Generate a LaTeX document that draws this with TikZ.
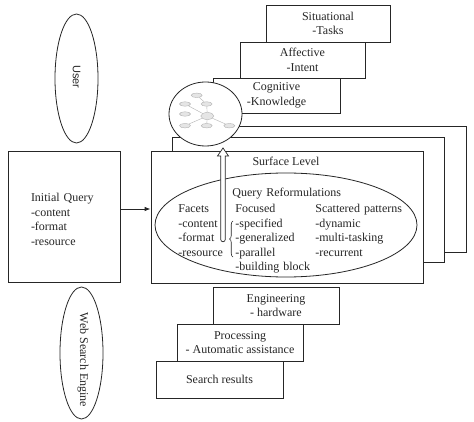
\documentclass[tikz,border=0pt]{standalone}
\usepackage{fontspec}
\setmainfont{Liberation Serif}
\newfontfamily\labelsans{Liberation Sans}
\usetikzlibrary{arrows.meta,decorations.pathreplacing,shapes.geometric}

\begin{document}
\begin{tikzpicture}[x=1pt, y=-1pt, line width=0.8pt, color=black!85,
	box/.style={draw, fill=white, inner sep=0pt, align=center, font=\fontsize{12}{14.5}\selectfont},
	col/.style={anchor=base west, inner sep=0pt, text width=#1, align=left, font=\fontsize{12}{14.5}\selectfont},
	mini/.style={draw=gray!60, fill=gray!20, ellipse, line width=0.4pt, inner sep=0pt, minimum width=11pt, minimum height=4.5pt}]
	\useasboundingbox (0,0) rectangle (474,422);
	
	% user side
	\node[rotate=-90, inner sep=0pt, font=\labelsans\fontsize{11}{13}\selectfont] (user) at (76.5,77) {User};
	\draw (76.5,78.5) ellipse [x radius=21.5, y radius=64.5];
	
	% levels behind the surface level
	\node[box, minimum width=271pt, minimum height=126pt] (layer3) at (330.5,189) {};
	\node[box, minimum width=272pt, minimum height=125pt] (layer2) at (308,199.5) {};
	\node[box, minimum width=272pt, minimum height=132pt] (surf) at (287,217) {};
	
	\node[box, minimum width=124pt, minimum height=37pt] (situ) at (328,23.5) {Situational\\-Tasks};
	\node[box, minimum width=125pt, minimum height=36pt] (affect) at (302.5,60) {Affective\\-Intent};
	\node[box, minimum width=127pt, minimum height=35pt] (cogn) at (276.5,95.5) {Cognitive\\-Knowledge};
	
	% knowledge model thumbnail
	\node[draw, fill=white, ellipse, inner sep=0pt, minimum width=73pt, minimum height=64pt] (model) at (205.5,114) {};
	\node[mini] (g1) at (196.7,95.3) {};
	\node[mini] (g2) at (185,104) {};
	\node[mini] (g3) at (206.7,104) {};
	\node[mini] (g4) at (185,114) {};
	\node[mini, minimum width=13pt, minimum height=7pt] (g5) at (207.3,116) {};
	\node[mini] (g6) at (185,125.7) {};
	\node[mini] (g7) at (206.7,125.7) {};
	\node[mini] (g8) at (229.3,125.7) {};
	\draw[gray!60, line width=0.4pt] (g1) -- (g3) (g2) -- (g5) (g3) -- (g5)
		(g5) -- (g6) (g5) -- (g7) (g5) -- (g8);
	
	% surface level contents
	\node[anchor=base, inner sep=0pt, font=\fontsize{12}{14.5}\selectfont] (surftitle) at (286,166) {Surface Level};
	\draw (286,225) ellipse [x radius=131, y radius=52];
	\node[col=120pt] (qref) at (232,197) {Query Reformulations};
	\node[col=55pt] (facets) at (178,213) {Facets\\-content\\-format\\-resource};
	\node[col=100pt] (focused) at (235,213) {Focused\\-specified\\-generalized\\-parallel\\-building block};
	\node[col=120pt] (scatter) at (315,213) {Scattered patterns\\-dynamic\\-multi-tasking\\-recurrent};
	
	\draw[line width=0.6pt, decorate, decoration={brace, amplitude=3.5pt}] (233,257) -- (233,221);
	% hollow arrow up to the model
	\coordinate (tip) at (223,148);
	\draw[fill=white, line width=0.7pt] (tip) -- ++(5.5,8) -- ++(-3.25,0) -- ++(0,83.5)
		arc[start angle=0, end angle=180, radius=2.25] -- ++(0,-83.5) -- ++(-3.25,0) -- cycle;
	
	% initial query
	\node[box, minimum width=112pt, minimum height=131pt] (iq) at (64,216.5) {};
	\node[col=70pt] (iqtext) at ([xshift=23pt, yshift=14.5pt]iq.west) {Initial Query\\-content\\-format\\-resource};
	\draw[-{Latex[length=6pt, width=4.5pt]}] ([yshift=7.5pt]iq.east) -- ([yshift=7.5pt]iq.east -| surf.west);
	
	% search engine side
	\node[rotate=-90, inner sep=0pt, font=\fontsize{12}{14.5}\selectfont] (wse) at (83,360) {Web Search Engine};
	\draw (81.5,353) ellipse [x radius=21.5, y radius=66];
	
	\node[box, minimum width=126pt, minimum height=37pt] (engin) at (276,305.5) {Engineering\\- hardware};
	\node[box, minimum width=126pt, minimum height=37pt] (proc) at (240,342.5) {Processing\\- Automatic assistance};
	\node[box, minimum width=127pt, minimum height=37pt] (results) at (219.5,379.5) {Search results};
\end{tikzpicture}
\end{document}
